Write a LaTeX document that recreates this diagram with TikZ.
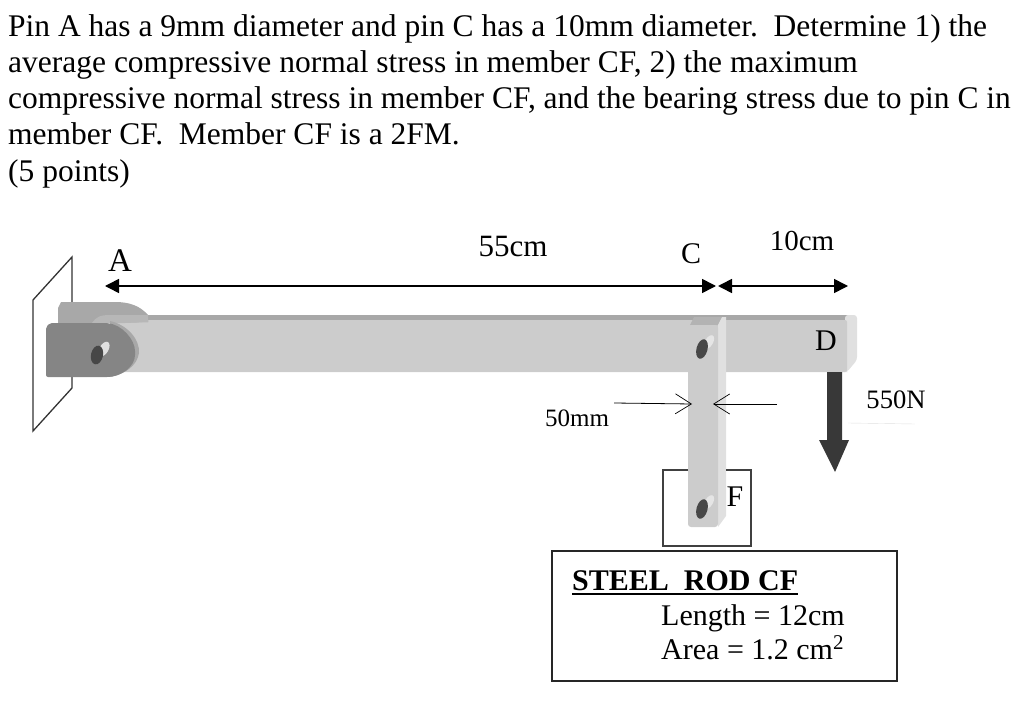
\documentclass[tikz,border=0pt]{standalone}
\usepackage{fontspec}
\setmainfont{Liberation Serif}
\usetikzlibrary{arrows.meta}
\tikzset{
	headline/.style={anchor=base west, inner sep=0pt, font=\fontsize{31.5}{36}\selectfont},
	dimlabel/.style={inner sep=0pt, font=\fontsize{30}{34}\selectfont},
	smalllabel/.style={inner sep=0pt, font=\fontsize{26}{30}\selectfont},
	dimline/.style={line width=1.6pt, {Triangle[length=14pt,width=14pt]}-{Triangle[length=14pt,width=14pt]}},
	widthline/.style={line width=0.8pt, -{Straight Barb[length=16pt,width=20pt,line width=0.7pt]}},
	outline/.style={line width=1.5pt, draw=black!75},
}
\definecolor{barface}{gray}{0.80}
\definecolor{bartop}{gray}{0.66}
\definecolor{barside}{gray}{0.88}
\definecolor{clevis}{gray}{0.52}
\definecolor{clevisrim}{gray}{0.66}
\definecolor{holedark}{gray}{0.28}
\definecolor{loadgray}{gray}{0.22}
\begin{document}
\begin{tikzpicture}[x=1pt,y=-1pt]
	\useasboundingbox (0,0) rectangle (1024,708);

	% Problem statement
	\node[headline] (lineone) at (8,37) {Pin A has a 9mm diameter and pin C has a 10mm diameter.\ \ Determine 1) the};
	\node[headline] (linetwo) at (8,73) {average compressive normal stress in member CF, 2) the maximum};
	\node[headline] (linethree) at (8,109) {compressive normal stress in member CF, and the bearing stress due to pin C in};
	\node[headline] (linefour) at (8,145) {member CF.\ \ Member CF is a 2FM.};
	\node[headline] (linefive) at (8,182) {(5 points)};

	% Wall plate
	\draw[line width=1.3pt, black!80] (72,302) -- (72,257) -- (33,300) -- (33,431) -- (72,388) -- (72,376);

	% Horizontal bar
	\fill[bartop] (125,315) -- (850,315) -- (857,322) -- (847,322) -- (125,322) -- cycle;
	\fill[barside, rounded corners=3pt] (845,315) -- (857,315) -- (857,360) -- (847,372) -- (845,372) -- cycle;
	\fill[barface, rounded corners=2pt] (110,320) -- (847,320) -- (847,372) -- (110,372) -- cycle;

	% Clevis at A
	\fill[clevisrim] (58,323) -- (58,308) -- (61,302) -- (115,302) .. controls (130,302) and (140,306) .. (148,315) -- (148,322) -- (110,323) -- cycle;
	\fill[bartop!60!barface] (92,323) .. controls (96,317) and (100,315) .. (110,315) -- (148,315) -- (148,322) -- (125,323) -- cycle;
	\fill[clevisrim] (110,321) .. controls (128,325) and (140,340) .. (139,353) .. controls (137,366) and (125,374) .. (110,377) -- cycle;
	\fill[clevis, rounded corners=2pt] (46,377) -- (46,327) -- (50,323) -- (105,323) .. controls (122,324) and (135,340) .. (135,353) .. controls (135,366) and (122,377) .. (105,377) -- cycle;
	\fill[barside] (104,349) ellipse [x radius=4.5pt, y radius=8pt, rotate=-30];
	\fill[holedark] (97,355) ellipse [x radius=6pt, y radius=9.5pt, rotate=-12];

	% Rod CF
	\fill[bartop!70!barface] (690,325) -- (694,317) -- (722,317) -- (718,325) -- cycle;
	\fill[barside] (718,325) -- (722,317) -- (726,317) -- (726,516) -- (718,527) -- cycle;
	\fill[barface, rounded corners=3pt] (688,325) -- (718,325) -- (718,527) -- (688,527) -- cycle;

	% Pin holes on the rod
	\foreach \holey in {348,508} {
		\fill[barside!85!white] (709,\holey-6) ellipse [x radius=4pt, y radius=7.5pt, rotate=-30];
		\fill[holedark] (702,\holey+1) ellipse [x radius=5.5pt, y radius=10pt, rotate=-15];
	}

	% Support box at F
	\draw[outline] (688,470) -- (663,470) -- (663,546) -- (751,546) -- (751,470) -- (726,470);

	% Load at D
	\fill[loadgray] (827,372) -- (842,372) -- (842,440) -- (849,440) -- (835,472) -- (819,440) -- (827,440) -- cycle;
	\draw[black!12] (848,423) -- (915,424);

	% Dimension lines
	\coordinate (dimA) at (105,286);
	\coordinate (dimC) at (716,286);
	\coordinate (dimCr) at (718,286);
	\coordinate (dimD) at (848,286);
	\draw[dimline] (dimA) -- (dimC);
	\draw[dimline] (dimCr) -- (dimD);

	% Rod width arrows
	\coordinate (widthL) at (614,403);
	\coordinate (widthLend) at (692,404);
	\coordinate (widthR) at (777,404);
	\coordinate (widthRend) at (713,404);
	\draw[widthline] (widthL) -- (widthLend);
	\draw[widthline] (widthR) -- (widthRend);

	% Labels
	\node[dimlabel, font=\fontsize{33}{34}\selectfont] (labA) at (120,261) {A};
	\node[dimlabel] (labC) at (691,254) {C};
	\node[dimlabel] (labD) at (826,341) {D};
	\node[dimlabel] (labF) at (735,497) {F};
	\node[dimlabel, font=\fontsize{31}{34}\selectfont] (labspan) at (513,247) {55cm};
	\node[dimlabel, font=\fontsize{29}{34}\selectfont] (labover) at (802,241) {10cm};
	\node[smalllabel, font=\fontsize{26.6}{30}\selectfont] (labload) at (896,400) {550N};
	\node[smalllabel, font=\fontsize{25}{30}\selectfont] (labwidth) at (577,418) {50mm};

	% Rod data box
	\draw[line width=1.6pt, black!85] (552,551) rectangle (897,681);
	\node[dimlabel, anchor=base west] (labrod) at (572,590) {\textbf{STEEL\ \ ROD CF}};
	\draw[line width=1.5pt] (572,594) -- (798,594);
	\node[dimlabel, anchor=base west] (lablength) at (661,625) {Length = 12cm};
	\node[dimlabel, anchor=base west] (labarea) at (661,659) {Area = 1.2 cm\textsuperscript{2}};

\end{tikzpicture}
\end{document}
